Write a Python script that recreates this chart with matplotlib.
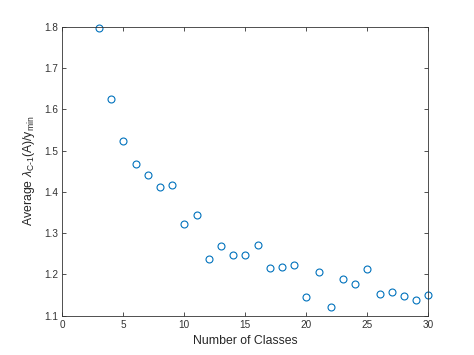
import matplotlib

matplotlib.use("Agg")

import matplotlib.pyplot as plt

# values
num_classes = list(range(3, 31))
avg_ratio = [
    1.797, 1.626, 1.524, 1.467, 1.440, 1.412, 1.416, 1.321, 1.344, 1.237,
    1.268, 1.248, 1.248, 1.272, 1.215, 1.219, 1.223, 1.146, 1.207, 1.121,
    1.190, 1.176, 1.213, 1.153, 1.157, 1.148, 1.137, 1.151,
]

plt.rcParams.update(
    {
        "font.family": ["Liberation Sans", "DejaVu Sans"],
        "mathtext.fontset": "custom",
        "mathtext.rm": "Liberation Sans",
        "mathtext.it": "Liberation Sans:italic",
        "mathtext.sf": "Liberation Sans",
    }
)

fig = plt.figure(figsize=(4.74, 3.55), dpi=100)
ax = fig.add_axes([0.1315, 0.1107, 0.7721, 0.8141])

ax.plot(
    num_classes,
    avg_ratio,
    linestyle="none",
    marker="o",
    markersize=5,
    markerfacecolor="none",
    markeredgecolor="#0072BD",
    markeredgewidth=0.8,
    clip_on=False,
)

ax.set_xlim(0, 30)
ax.set_ylim(1.1, 1.8)
ax.set_xticks(range(0, 31, 5))
ax.set_yticks([1.1, 1.2, 1.3, 1.4, 1.5, 1.6, 1.7, 1.8])
ax.set_yticklabels(["1.1", "1.2", "1.3", "1.4", "1.5", "1.6", "1.7", "1.8"])

ax.tick_params(
    direction="in", top=True, right=True, length=3, width=0.6,
    labelsize=7.2, colors="#333333", pad=3,
)
for side in ax.spines.values():
    side.set_color("#333333")
    side.set_linewidth(0.6)

ax.set_xlabel("Number of Classes", fontsize=8.8, color="#262626", labelpad=4)
ax.set_ylabel(
    r"Average $\lambda_{\mathrm{C\text{-}1}}\mathrm{(A)/y_{min}}$",
    fontsize=8.8,
    color="#262626",
    labelpad=5,
)

fig.savefig("out.png", dpi=100)
